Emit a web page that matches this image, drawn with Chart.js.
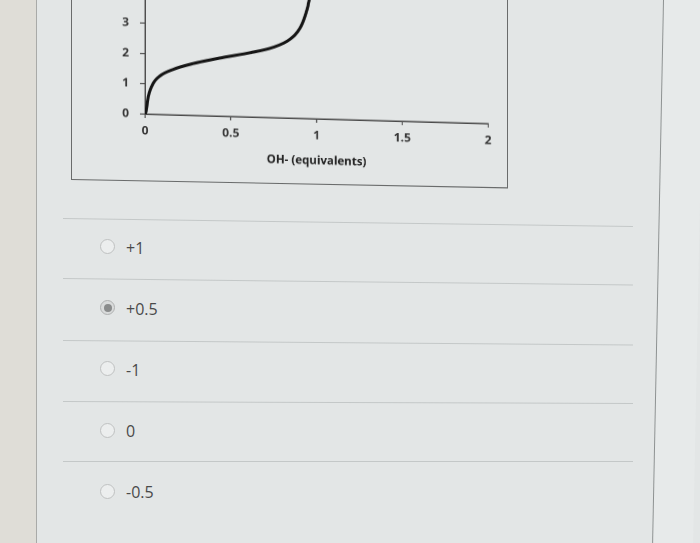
<!DOCTYPE html>
<html>
<head>
<meta charset="utf-8">
<script src="https://cdn.jsdelivr.net/npm/chart.js@4"></script>
<style>
  html, body { margin:0; padding:0; width:700px; height:543px; overflow:hidden; }
  body { background:#e3e6e6; position:relative; font-family:"Open Sans", Lato, sans-serif; }
  #leftStrip { position:absolute; left:0; top:0; width:36px; height:543px; background:#dfddd7; border-right:1px solid #a9aaa8; }
  #rightLine { position:absolute; left:663px; top:0; width:40px; height:543px; background:#e7eaea; border-left:1px solid #8e9292; transform:skewX(-1.15deg); transform-origin:0 0; }
  #box { position:absolute; left:71px; top:-20px; width:435px; height:198px; border:1px solid #6a6c6c; transform:skewY(1.1deg); transform-origin:0 100%; }
  #cw { position:absolute; left:73px; top:-359px; width:433px; height:538px; transform:skewY(1.6deg); transform-origin:72px 473px; }
  .sep { position:absolute; left:63px; width:570px; height:0; border-top:1px solid #c4c8c8; transform-origin:0 0; }
  .opt { position:absolute; left:126px; font-size:16px; color:#4a4a4a; line-height:20px; }
  .radio { position:absolute; left:100px; width:13px; height:13px; border-radius:50%; border:1px solid #bfc1c1; background:#eceeee; }
  .radio.sel { border:1px solid #b0b2b2; background:#d9dbdb; }
  .radio.sel::after { content:""; position:absolute; left:2.5px; top:2.5px; width:8px; height:8px; border-radius:50%; background:#8a8c8c; }
</style>
</head>
<body>
<div id="leftStrip"></div>
<div id="rightLine"></div>
<div id="box"></div>
<div id="cw"><canvas id="c"></canvas></div>

<div class="sep" style="top:218px; transform:rotate(0.8deg)"></div>
<div class="sep" style="top:278px; transform:rotate(0.65deg)"></div>
<div class="sep" style="top:340px; transform:rotate(0.45deg)"></div>
<div class="sep" style="top:401px; transform:rotate(0.2deg)"></div>
<div class="sep" style="top:461px;"></div>

<div class="radio" style="top:239px"></div><div class="opt" style="top:238px">+1</div>
<div class="radio sel" style="top:300px"></div><div class="opt" style="top:299px">+0.5</div>
<div class="radio" style="top:361px"></div><div class="opt" style="top:360px">-1</div>
<div class="radio" style="top:423px"></div><div class="opt" style="top:421px">0</div>
<div class="radio" style="top:484px"></div><div class="opt" style="top:482px">-0.5</div>

<script>
// Data (titration curve)
const ohEquivalents = [0, 0.006, 0.019, 0.048, 0.087, 0.165, 0.281, 0.456, 0.612, 0.747, 0.845, 0.903, 0.932, 0.957, 0.975, 1.0];
const pHValues      = [0, 0.08, 0.57, 1.02, 1.27, 1.50, 1.71, 1.94, 2.12, 2.32, 2.60, 2.97, 3.36, 3.91, 4.8, 6.0];
const xTickValues = [0, 0.5, 1, 1.5, 2];
const xTickLabels = ['0', '0.5', '1', '1.5', '2'];
const yTickValues = [0,1,2,3,4,5,6,7,8,9,10,11,12,13,14];
const yTickLabels = ['0','1','2','3','4','5','6','7','8','9','10','11','12','13','14'];
const xAxisTitle = 'OH- (equivalents)';

const points = ohEquivalents.map((x, i) => ({x: x, y: pHValues[i]}));
const tickFont = {family: '"Open Sans", sans-serif', size: 12, weight: 'bold'};

new Chart(document.getElementById('c'), {
  type: 'line',
  data: { datasets: [{
    data: points,
    borderColor: '#151515',
    borderWidth: 3,
    pointRadius: 0,
    fill: false,
    cubicInterpolationMode: 'monotone'
  }]},
  options: {
    responsive: true,
    maintainAspectRatio: false,
    animation: false,
    devicePixelRatio: 2,
    layout: { padding: { top: 49, right: 18, left: 0, bottom: 0 } },
    plugins: { legend: { display: false }, tooltip: { enabled: false } },
    scales: {
      x: {
        type: 'linear', min: 0, max: 2,
        afterBuildTicks: s => { s.ticks = xTickValues.map(v => ({value: v})); },
        afterFit: s => { s.height = 65; },
        ticks: { font: tickFont, color: '#363636', padding: 6, maxRotation: 0,
                 callback: (v) => xTickLabels[xTickValues.indexOf(v)] },
        grid: { drawOnChartArea: false, drawTicks: true, tickLength: 4, color: '#555', lineWidth: 1.2 },
        border: { display: true, color: '#4a4a4a', width: 1.5 },
        title: { display: true, text: xAxisTitle, color: '#222',
                 font: {family: '"Open Sans", sans-serif', size: 11.5, weight: 'bold'},
                 padding: { top: 0, bottom: 16 } }
      },
      y: {
        type: 'linear', min: 0, max: 14,
        afterBuildTicks: s => { s.ticks = yTickValues.map(v => ({value: v})); },
        afterFit: s => { s.width = 72; },
        ticks: { font: tickFont, color: '#363636', padding: 11,
                 callback: (v) => yTickLabels[yTickValues.indexOf(v)] },
        grid: { drawOnChartArea: false, drawTicks: true, tickLength: 5, color: '#555', lineWidth: 1.2 },
        border: { display: true, color: '#4a4a4a', width: 1.5 }
      }
    }
  }
});
</script>
</body>
</html>
